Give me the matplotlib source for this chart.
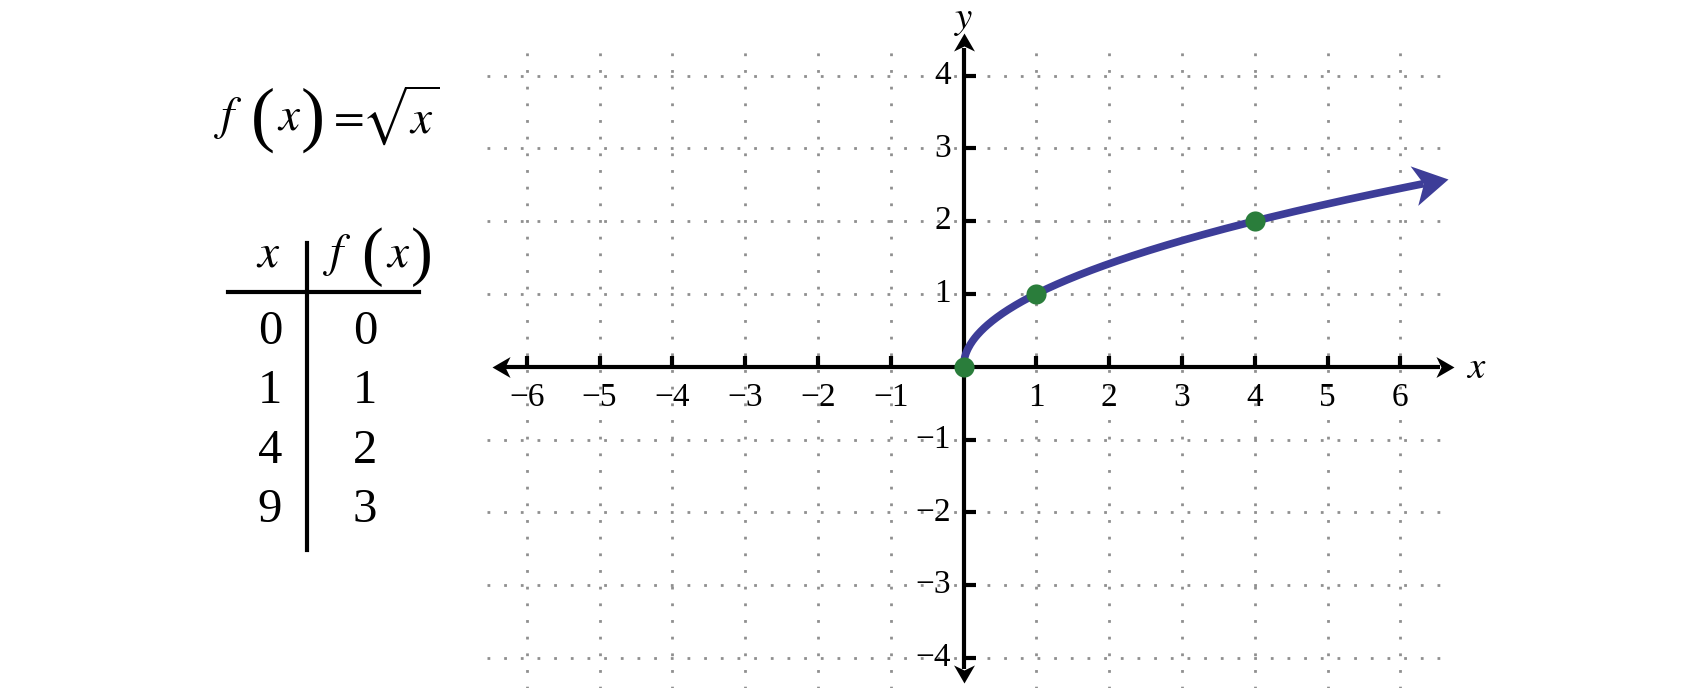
import numpy as np
import matplotlib
matplotlib.use("Agg")
import matplotlib.pyplot as plt
from matplotlib.markers import MarkerStyle
from matplotlib.path import Path
from matplotlib.transforms import Affine2D

plt.rcParams['font.family'] = ['Liberation Serif', 'DejaVu Serif']
plt.rcParams['mathtext.fontset'] = 'stix'

# data
x_ticks = [-6, -5, -4, -3, -2, -1, 1, 2, 3, 4, 5, 6]
y_ticks = [-4, -3, -2, -1, 1, 2, 3, 4]
pts_x = [0, 1, 4]
pts_y = [0, 1, 2]
table_x = [0, 1, 4, 9]
table_fx = [0, 1, 2, 3]
curve_end = 6.65

W, H = 1700, 688
UNIT = 72.8
OX, OY = 963.5, 366.7
BLUE = '#3d3d98'
GREEN = '#2a7d3b'


def px(x, y):
    return x / W, 1 - y / H


def head(ax, x, y, angle, size, color):
    verts = [(0, 0), (-1, 0.58), (-0.72, 0), (-1, -0.58), (0, 0)]
    codes = [Path.MOVETO, Path.LINETO, Path.LINETO, Path.LINETO, Path.CLOSEPOLY]
    m = MarkerStyle(Path(verts, codes), transform=Affine2D().rotate_deg(angle))
    ax.plot([x], [y], marker=m, ms=size, color=color, mec=color, mew=0, zorder=6)


def fofx(fig, x0, yc, fs, pfs):
    # f ( x ) with tall parentheses, x0 = centre of the f
    s = fs / 33
    fig.text(*px(x0, yc), '$f$', ha='center', va='center', fontsize=fs)
    fig.text(*px(x0 + 34 * s, yc + 2), '(', ha='center', va='center', fontsize=pfs)
    fig.text(*px(x0 + 59 * s, yc), '$x$', ha='center', va='center', fontsize=fs)
    fig.text(*px(x0 + 82 * s, yc + 2), ')', ha='center', va='center', fontsize=pfs)


fig = plt.figure(figsize=(W / 100, H / 100), dpi=100)
ax = fig.add_axes([0, 0, 1, 1])
ax.set_xlim(-OX / UNIT, (W - OX) / UNIT)
ax.set_ylim(-(H - OY) / UNIT, OY / UNIT)
ax.set_aspect('equal')
ax.axis('off')

# dotted grid
grid = dict(color='#8f8f8f', lw=2, linestyles=[(0, (1, 5))], zorder=1)
ax.hlines(y_ticks, -6.55, 6.57, **grid)
ax.vlines(x_ticks, -4.6, 4.35, **grid)

# axes with arrows
ax.plot([-6.3, 6.55], [0, 0], color='black', lw=3, solid_capstyle='butt', zorder=3)
ax.plot([0, 0], [-4.15, 4.38], color='black', lw=3, solid_capstyle='butt', zorder=3)
head(ax, 6.74, 0, 0, 26, 'black')
head(ax, -6.48, 0, 180, 26, 'black')
head(ax, 0, 4.58, 90, 26, 'black')
head(ax, 0, -4.35, -90, 26, 'black')

ax.vlines(x_ticks, 0, 0.15, color='black', lw=3, zorder=3)
ax.hlines(y_ticks, 0, 0.17, color='black', lw=3, zorder=3)

for t in x_ticks:
    lab = str(t).replace('-', '\u2212')
    ax.text(t, -0.42, lab, ha='center', va='center', fontsize=24)
for t in y_ticks:
    lab = str(t).replace('-', '\u2212')
    ax.text(-0.17, t, lab, ha='right', va='center', fontsize=24)

ax.text(7.04, -0.02, '$x$', ha='center', va='center', fontsize=28)
ax.text(0, 5.03, '$y$', ha='center', va='top', fontsize=28)

# curve
xs = np.linspace(0, curve_end - 0.33, 400)
ax.plot(xs, np.sqrt(xs), color=BLUE, lw=5.5, solid_capstyle='butt', zorder=4)
ang = np.degrees(np.arctan(1 / (2 * np.sqrt(curve_end))))
head(ax, curve_end, np.sqrt(curve_end), ang, 50, BLUE)

ax.plot(pts_x, pts_y, 'o', color=GREEN, ms=14.5, mew=0, zorder=7)

# formula and table
fofx(fig, 228, 118, 34, 52)
fig.text(*px(345, 118), '$=$', ha='center', va='center', fontsize=32)
fig.text(*px(400, 116), r'$\sqrt{x}$', ha='center', va='center', fontsize=34)

fig.text(*px(268, 255), '$x$', ha='center', va='center', fontsize=34)
fofx(fig, 337, 255, 34, 47)
for i, (a, b) in enumerate(zip(table_x, table_fx)):
    yy = 331.7 + i * 59.5
    fig.text(*px(270, yy), str(a), ha='center', va='center', fontsize=35)
    fig.text(*px(365, yy), str(b), ha='center', va='center', fontsize=35)
fig.add_artist(plt.Line2D([228 / W, 419 / W], [1 - 291.7 / H] * 2, color='black', lw=3))
fig.add_artist(plt.Line2D([306.7 / W] * 2, [1 - 243 / H, 1 - 550 / H], color='black', lw=3))

fig.savefig('out.png', dpi=100)
